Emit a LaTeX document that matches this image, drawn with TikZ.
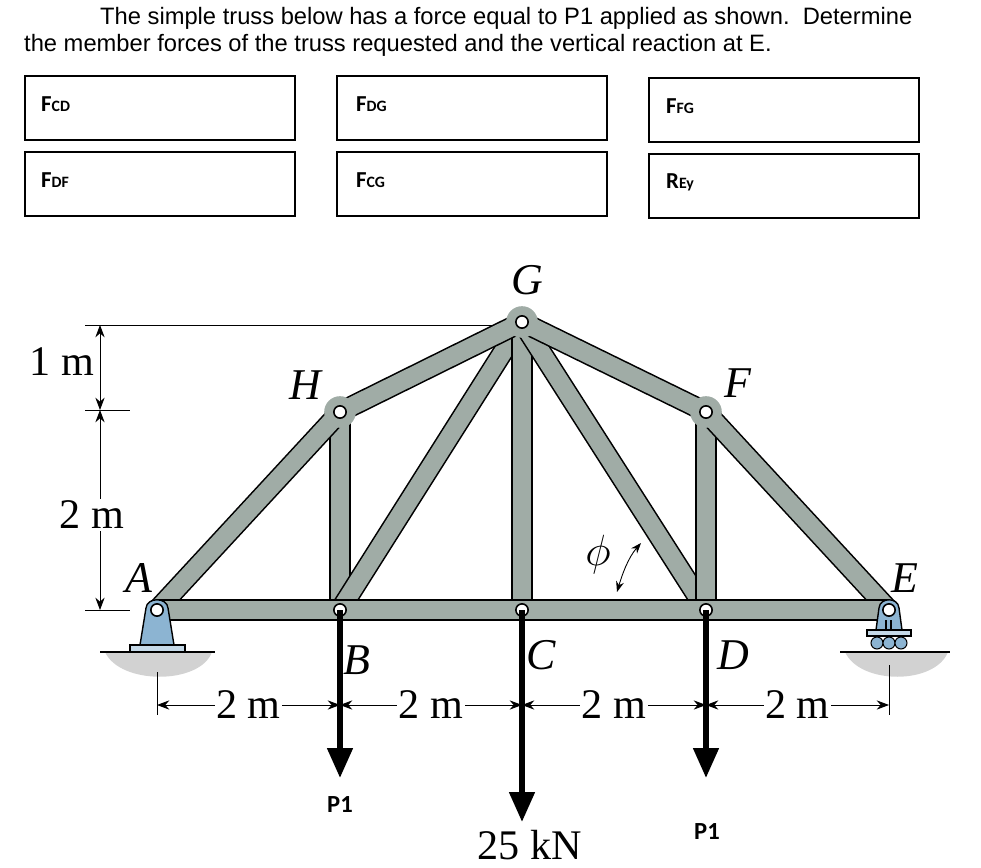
\documentclass[tikz,border=0pt]{standalone}
\usepackage{fontspec}
\setmainfont{Liberation Serif}
\newfontfamily\arialf{Liberation Sans}
\newfontfamily\calf{Carlito}
\usetikzlibrary{arrows.meta}
\definecolor{bar}{RGB}{160,172,166}
\definecolor{sup}{RGB}{140,180,210}
\definecolor{gnd}{RGB}{210,210,210}
\begin{document}
\begin{tikzpicture}[x=0.02cm,y=-0.02cm,
  memo/.style={line width=12pt,black},
  memi/.style={line width=10.2pt,bar},
  pin/.style={circle,draw=black,fill=white,line width=0.9pt,inner sep=0pt,minimum size=7pt},
  lab/.style={font=\fontsize{25}{25}\selectfont\itshape},
  dim/.style={font=\fontsize{24}{24}\selectfont,fill=white,inner sep=1pt},
  ans/.style={draw=black,line width=0.6pt,minimum width=270*0.02cm,minimum height=64*0.02cm,inner sep=0pt},
  albl/.style={font=\calf\bfseries\fontsize{13}{13}\selectfont,anchor=west},
  load/.style={line width=3.2pt,-{Triangle[length=17pt,width=14pt]}},
  dl/.style={line width=0.5pt}]
\useasboundingbox (0,0) rectangle (981,868);
% header
\node[font=\arialf\fontsize{13.5}{15}\selectfont,anchor=west] (t1) at (94,18) {The simple truss below has a force equal to P1 applied as shown.\ \ Determine};
\node[font=\arialf\fontsize{13.5}{15}\selectfont,anchor=west] (t2) at (18,45) {the member forces of the truss requested and the vertical reaction at E.};
\node[ans] (b1) at (160,108) {}; \node[albl] at (35,104) {F\fontsize{9}{9}\selectfont CD};
\node[ans] (b2) at (472,108) {}; \node[albl] at (350,104) {F\fontsize{9}{9}\selectfont DG};
\node[ans] (b3) at (784,110) {}; \node[albl] at (660,106) {F\fontsize{9}{9}\selectfont FG};
\node[ans] (b4) at (160,184) {}; \node[albl] at (35,180) {F\fontsize{9}{9}\selectfont DF};
\node[ans] (b5) at (472,184) {}; \node[albl] at (350,180) {F\fontsize{9}{9}\selectfont CG};
\node[ans] (b6) at (784,186) {}; \node[albl] at (660,182) {R\fontsize{9}{9}\selectfont Ey};
% joints
\coordinate (A) at (157,610); \coordinate (B) at (340,610); \coordinate (C) at (522,610);
\coordinate (D) at (706,610); \coordinate (E) at (889,610); \coordinate (H) at (340,412);
\coordinate (G) at (522,322); \coordinate (F) at (706,412);
% ground
\fill[gnd] (105,652) .. controls (120,685) and (200,685) .. (212,652) -- cycle;
\draw[line width=1pt] (100,652) -- (215,652);
\fill[gnd] (845,652) .. controls (860,685) and (935,685) .. (948,652) -- cycle;
\draw[line width=1pt] (840,652) -- (950,652);
% dimension extension lines
\draw[dl] (85,325) -- (522,325);
\draw[dl] (85,410) -- (130,410);
\draw[dl] (85,610) -- (130,610);
\draw[dl,{Stealth[length=7pt]}-{Stealth[length=7pt]}] (100,325) -- (100,410);
\draw[dl,{Stealth[length=7pt]}-{Stealth[length=7pt]}] (100,410) -- (100,610);
\node[dim] (d1) at (62,362) {1 m};
\node[dim] (d2) at (92,515) {2 m};
% members
\foreach \p/\q in {H/B,B/G,G/C,G/D,D/F,A/H,F/E,H/G,G/F,A/E}{
  \draw[memo,line cap=butt] (\p) -- (\q); \draw[memi] (\p) -- (\q);}
\fill[bar] (H) circle (9pt); \fill[bar] (F) circle (9pt); \fill[bar] (G) circle (9pt);
\draw[memi,line cap=butt] (160,610) -- (885,610);
% supports
\draw[fill=sup,line width=0.8pt] (140,645) -- (146,608) .. controls (147,597) and (167,597) .. (168,608) -- (174,645) -- cycle;
\draw[fill=sup!50,line width=0.8pt] (130,645) rectangle (185,652);
\draw[fill=sup,line width=0.8pt] (876,630) -- (879,608) .. controls (880,597) and (898,597) .. (899,608) -- (902,630) -- cycle;
\draw[line width=0.8pt] (886,620) -- (886,630) (891,620) -- (891,630);
\draw[fill=sup!50,line width=0.8pt] (867,630) rectangle (911,636);
\foreach \x in {877,889,901}{\draw[fill=sup,line width=0.6pt] (\x,643) circle (6);}
% pins
\foreach \j in {A,B,C,D,H,G,F,E}{\node[pin] at (\j) {};}
% loads
\draw[load] (B) -- (340,778);
\draw[load] (C) -- (522,822);
\draw[load] (D) -- (706,778);
\node[font=\calf\bfseries\fontsize{14}{14}\selectfont] (p1) at (340,805) {P1};
\node[font=\calf\bfseries\fontsize{14}{14}\selectfont] (p2) at (707,832) {P1};
\node[font=\fontsize{24}{24}\selectfont] (kn) at (530,845) {25 kN};
% bottom dims
\draw[dl] (157,672) -- (157,715); \draw[dl] (889,665) -- (889,715);
\foreach \a/\b in {157/340,340/522,522/706,706/889}{
  \draw[dl,{Stealth[length=7pt]}-{Stealth[length=7pt]}] (\a,705) -- (\b,705);
  \node[dim] at ({(\a+\b)/2},705) {2 m};}
% labels
\node[lab] (lG) at (527,280) {G};
\node[lab] (lH) at (305,385) {H};
\node[lab] (lF) at (738,383) {F};
\node[lab] (lA) at (139,578) {A};
\node[lab] (lE) at (905,578) {E};
\node[lab] (lB) at (357,660) {B};
\node[lab] (lC) at (541,655) {C};
\node[lab] (lD) at (733,655) {D};
\node[font=\fontsize{25}{25}\selectfont] (phi) at (598,555) {$\phi$};
\draw[dl,{Stealth[length=6pt]}-{Stealth[length=6pt]}] (617,592) .. controls (622,575) and (628,558) .. (641,543);
\end{tikzpicture}
\end{document}
